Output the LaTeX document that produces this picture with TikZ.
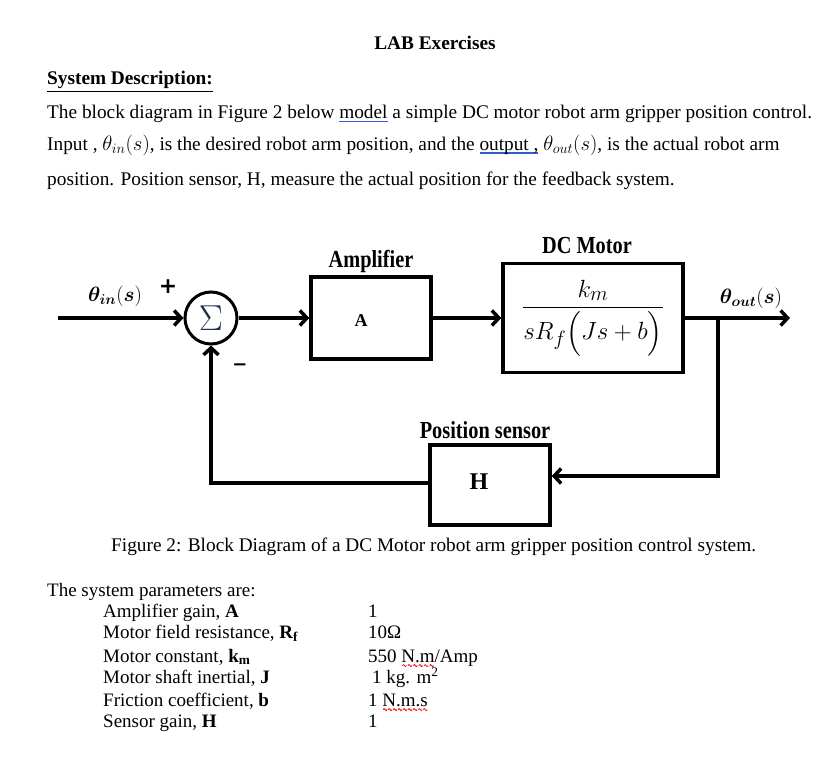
\documentclass[tikz,border=0pt]{standalone}
\usepackage{amsmath}
\usepackage{amssymb}
\usepackage{bm}
\usepackage{fontspec}
\usepackage{tikz}
\usetikzlibrary {arrows.meta,positioning}
\setmainfont{Liberation Serif}
\newfontfamily\condfont[FakeStretch=0.83]{Liberation Serif}
\newfontfamily\signfont{DejaVu Sans}
\definecolor{spellblue}{RGB}{50,90,210}
\definecolor{sigmablue}{RGB}{30,45,80}
\newsavebox\markbox
\newcommand\blueul[1]{\sbox\markbox{#1}\rlap{\textcolor{spellblue}{\rule[-3.5pt]{\wd\markbox}{1.7pt}}}\usebox\markbox}
\newcommand\redwave[1]{\sbox\markbox{#1}\rlap{\raisebox{-5pt}{\hbox to \wd\markbox{\xleaders\hbox{\tikz[x=1pt,y=1pt]\draw[red,line width=0.8pt] (0,0) sin (1,1) cos (2,0) sin (3,-1) cos (4,0);}\hfil}}}\usebox\markbox}
\newcommand\bodysize{\fontsize{19.3}{23}\selectfont}
\newcommand\listsize{\fontsize{19}{22}\selectfont}

\begin{document}
\begin{tikzpicture}[x=1pt,y=-1pt,node distance = 0pt and 0pt,
    line/.style={anchor=base west,inner sep=0pt,font=\bodysize},
    item/.style={anchor=base west,inner sep=0pt,font=\listsize},
    block/.style={rectangle,draw=black,line width=3.5pt,inner sep=0pt},
    sumpoint/.style={circle,draw=black,line width=3pt,minimum size=52pt,inner sep=0pt},
    blocktitle/.style={inner sep=0pt,font=\condfont\bfseries\fontsize{24.5}{28}\selectfont},
    sign/.style={inner sep=0pt,font=\signfont\bfseries\fontsize{22}{24}\selectfont},
    signal/.style={line width=3.5pt,-{Straight Barb[length=7pt,width=15pt]}},
   ]
    \useasboundingbox (0,0) rectangle (826,778);

    % heading and description
    \node (title) [inner sep=0pt,font=\bfseries\bodysize] at (435,43) {LAB Exercises};
    \node (sysdesc) [line,font=\bfseries\bodysize] at (47,85) {\underline{System Description:}};
    \node (txt1) [line] at (47,119) {The block diagram in Figure 2 below \blueul{model} a simple DC motor robot arm gripper position control.};
    \node (txt2) [line] at (47,150) {Input , $\theta_{in}(s)$, is the desired robot arm position, and the \blueul{output ,} $\theta_{out}(s)$, is the actual robot arm};
    \node (txt3) [line] at (47,185) {position. Position sensor, H, measure the actual position for the feedback system.};

    % block diagram
    \node (sum) [sumpoint] at (211,318) {\color{sigmablue}\scalebox{1.45}{\fontsize{24.88}{30}\selectfont$\Sigma$}};
    \node (amp) [block,minimum width=120pt,minimum height=82pt] at (371,318) {};
    \node (ampgain) [inner sep=0pt,font=\bfseries\fontsize{18}{20}\selectfont] at (361,321) {A};
    \node (motor) [block,minimum width=180pt,minimum height=109pt] at (593,318) {\fontsize{24.88}{30}\selectfont$\dfrac{k_m}{sR_f\Bigl(Js+b\Bigr)}$};
    \node (sensor) [block,minimum width=120pt,minimum height=80pt] at (490,485) {};
    \node (sensorgain) [inner sep=0pt,font=\bfseries\fontsize{24}{26}\selectfont] at (479,482) {H};

    \node (ampname) [blocktitle,above=2pt of amp] {Amplifier};
    \node (motorname) [blocktitle,above=8pt of motor,xshift=-6pt] {DC Motor};
    \node (sensorname) [blocktitle,above=4pt of sensor,xshift=-5pt] {Position sensor};

    \node (thin) [inner sep=0pt,font=\fontsize{20.74}{22}\selectfont] at (115,296) {$\bm{\theta}_{\bm{in}}(\bm{s})$};
    \node (thout) [inner sep=0pt,font=\fontsize{20.74}{22}\selectfont] at (751,298) {$\bm{\theta}_{\bm{out}}(\bm{s})$};
    \node (plus) [sign] at (168,287) {+};
    \node (minus) [sign,font=\signfont\bfseries\fontsize{18}{20}\selectfont] at (240,367) {−};

    \coordinate (in) at (58,318);
    \coordinate (out) at (790,318);
    \coordinate (branch) at (718,318);

    \draw[signal] (in) -- (sum);
    \draw[signal] (sum) -- (amp);
    \draw[signal] (amp) -- (motor);
    \draw[signal] (motor) -- (out);
    \draw[signal] (branch) |- ([yshift=9pt]sensor.east);
    \draw[signal] ([yshift=2pt]sensor.west) -| (sum.south);

    \node (caption) [line] at (111,551) {Figure 2: Block Diagram of a DC Motor robot arm gripper position control system.};

    % parameter list
    \node (partitle) [item] at (47,596) {The system parameters are:};
    \node (p1) [item] at (103,617) {Amplifier gain, \textbf{A}};
    \node (p2) [item] at (103,638) {Motor field resistance, \textbf{R\textsubscript{f}}};
    \node (p3) [item] at (103,662) {Motor constant, \textbf{k\textsubscript{m}}};
    \node (p4) [item] at (103,683) {Motor shaft inertial, \textbf{J}};
    \node (p5) [item] at (103,706) {Friction coefficient, \textbf{b}};
    \node (p6) [item] at (103,727) {Sensor gain, \textbf{H}};
    \node (v1) [item] at (368,617) {1};
    \node (v2) [item] at (368,638) {10Ω};
    \node (v3) [item] at (368,662) {550 \redwave{N.m}/Amp};
    \node (v4) [item] at (372,683) {1 kg. m\textsuperscript{2}};
    \node (v5) [item] at (368,706) {1 \redwave{N.m.s}};
    \node (v6) [item] at (368,727) {1};
\end{tikzpicture}
\end{document}
